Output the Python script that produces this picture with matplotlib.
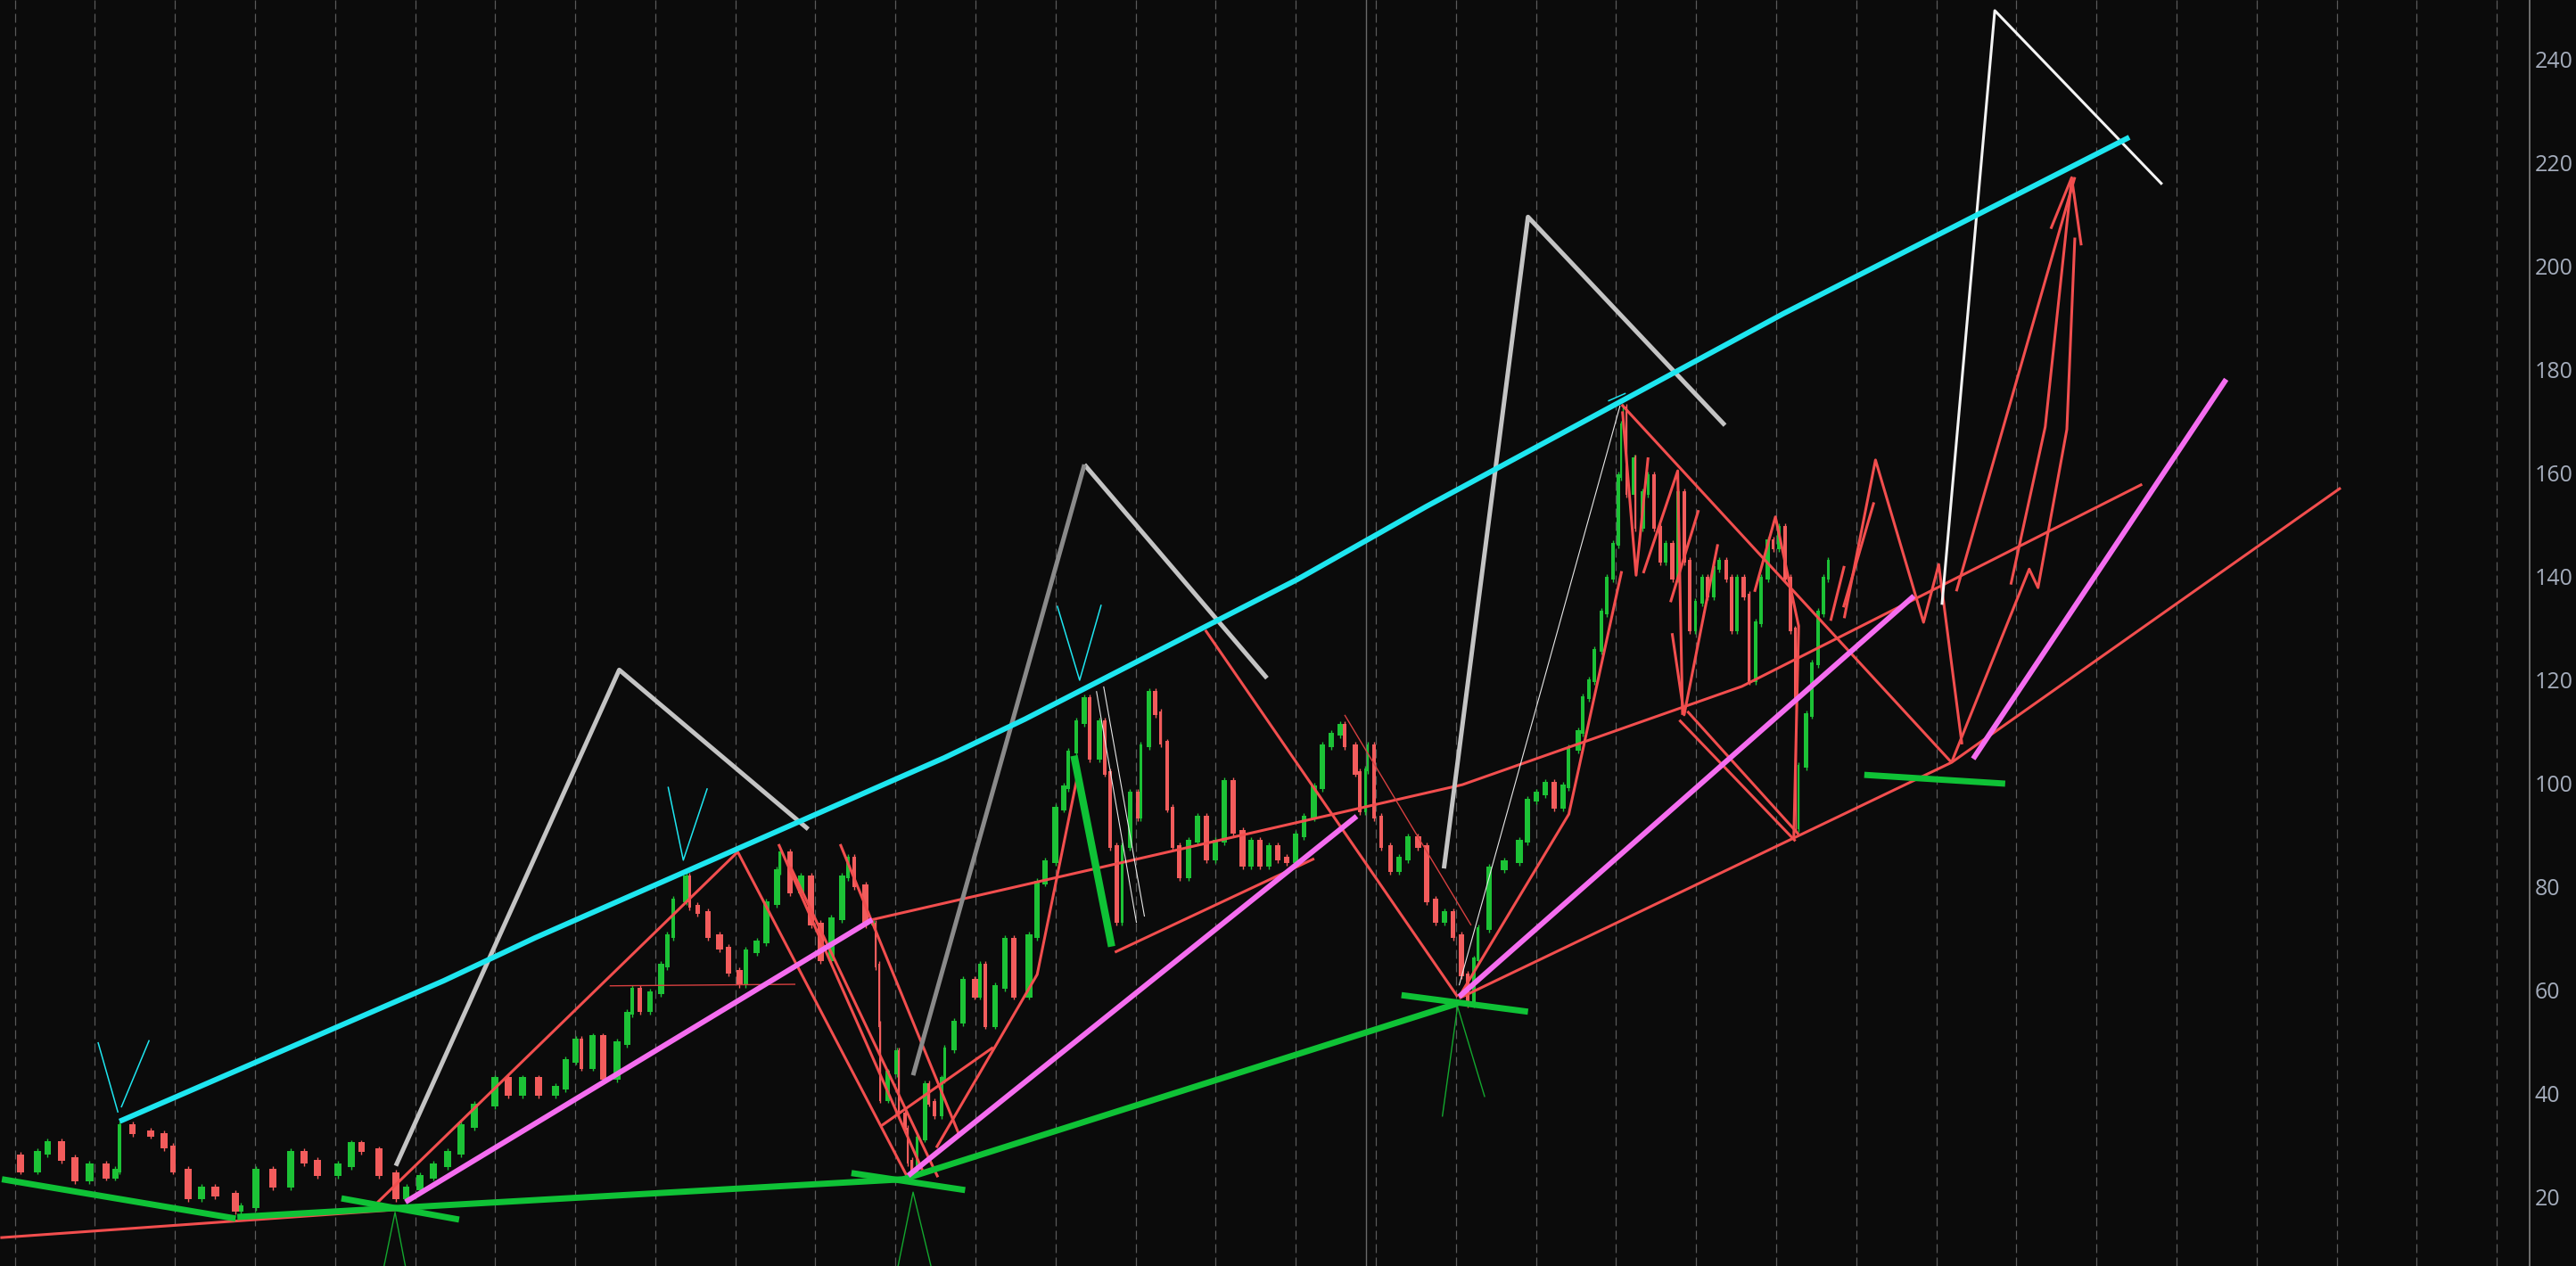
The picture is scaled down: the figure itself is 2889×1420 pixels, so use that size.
import matplotlib
matplotlib.use("Agg")
import matplotlib.pyplot as plt

# ---- price samples (time in grid periods, close price) ----
candle_t = [
    -0.18, 0.03, 0.24, 0.37, 0.54, 0.71, 0.89, 1.10, 1.22, 1.29, 1.43, 1.65, 1.82, 1.94,
    2.12, 2.29, 2.46, 2.71, 2.80, 2.97, 3.18, 3.40, 3.57, 3.74, 3.99, 4.16, 4.29, 4.50,
    4.72, 4.85, 5.02, 5.18, 5.36, 5.53, 5.70, 5.95, 6.12, 6.30, 6.50, 6.71, 6.84, 6.97,
    7.05, 7.18, 7.31, 7.48, 7.61, 7.69, 7.78, 7.90, 8.03, 8.12, 8.20, 8.35, 8.41, 8.50,
    8.62, 8.76, 8.88, 9.01, 9.10, 9.23, 9.35, 9.48, 9.54, 9.65, 9.78, 9.91, 10.03, 10.16,
    10.29, 10.38, 10.46, 10.59, 10.70, 10.74, 10.78, 10.80, 10.88, 10.99, 11.03, 11.10,
    11.14, 11.19, 11.25, 11.34, 11.40, 11.47, 11.55, 11.60, 11.70, 11.81, 11.95, 12.03,
    12.10, 12.21, 12.33, 12.44, 12.62, 12.73, 12.84, 12.96, 13.07, 13.14, 13.23, 13.33,
    13.40, 13.51, 13.59, 13.66, 13.74, 13.81, 13.90, 14.00, 14.05, 14.14, 14.22, 14.29,
    14.37, 14.44, 14.52, 14.63, 14.74, 14.85, 14.96, 15.07, 15.18, 15.30, 15.41, 15.52,
    15.63, 15.74, 15.85, 15.96, 16.07, 16.19, 16.30, 16.41, 16.52, 16.59, 16.71, 16.78,
    16.85, 16.89, 16.96, 17.04, 17.15, 17.26, 17.37, 17.49, 17.60, 17.71, 17.82, 17.93,
    18.04, 18.12, 18.20, 18.26, 18.38, 18.56, 18.75, 18.86, 18.97, 19.08, 19.19, 19.30,
    19.38, 19.49, 19.56, 19.64, 19.71, 19.79, 19.86, 19.94, 20.01, 20.05, 20.08, 20.12,
    20.20, 20.23, 20.31, 20.38, 20.45, 20.53, 20.60, 20.68, 20.75, 20.83, 20.90, 20.97,
    21.05, 21.12, 21.20, 21.27, 21.35, 21.42, 21.49, 21.57, 21.64, 21.72, 21.79, 21.87,
    21.94, 22.01, 22.09, 22.16, 22.22, 22.24, 22.27, 22.35, 22.42, 22.50, 22.57, 22.63,
]
candle_close = [
    28.0, 25.2, 28.6, 30.5, 27.4, 23.4, 26.2, 24.0, 25.2, 33.8, 32.6, 32.1, 29.7, 25.2,
    20.0, 21.7, 20.5, 17.6, 18.2, 25.2, 22.2, 28.6, 26.9, 24.5, 26.2, 30.3, 29.1, 24.5,
    20.0, 21.7, 24.0, 26.2, 28.6, 33.8, 37.8, 42.9, 40.0, 42.9, 40.0, 41.2, 46.4, 50.4,
    45.2, 51.0, 43.0, 49.8, 55.6, 60.2, 56.2, 59.6, 64.8, 70.5, 77.4, 82.0, 76.3, 75.1,
    70.5, 68.2, 63.6, 61.3, 67.6, 69.4, 76.9, 83.2, 86.6, 79.1, 82.0, 72.8, 65.9, 73.9,
    82.0, 85.5, 80.3, 72.8, 72.8, 64.8, 53.3, 39.0, 44.1, 48.1, 36.0, 33.2,
    26.9, 25.2, 31.4, 41.8, 38.3, 36.0, 42.9, 48.7, 53.9, 61.9, 59.0, 64.8,
    53.3, 60.7, 69.9, 59.0, 70.5, 80.9, 84.9, 95.2, 99.3, 106.1, 111.9, 116.5,
    105.0, 111.9, 102.1, 87.8, 73.4, 87.8, 98.1, 93.5, 107.3, 117.6, 113.6, 107.9,
    95.2, 87.8, 82.0, 88.9, 93.5, 85.5, 88.9, 100.4, 90.7, 84.3, 88.9, 84.3,
    87.8, 85.5, 84.9, 90.0, 93.5, 99.3, 107.3, 109.6, 111.3, 107.3, 102.1, 94.7,
    102.7, 107.3, 93.5, 87.8, 83.2, 85.5, 89.5, 87.8, 77.4, 73.4, 75.1, 70.5,
    63.0, 57.5, 66.0, 72.0, 83.6, 84.9, 88.9, 96.8, 98.1, 100.1, 95.5, 99.5,
    106.7, 110.0, 116.6, 119.9, 125.8, 133.1, 139.7, 146.3, 159.5, 169.4, 172.7, 156.2,
    162.8, 149.6, 156.2, 159.5, 149.6, 143.0, 146.3, 139.7, 156.2, 143.0, 129.8, 135.1,
    139.7, 136.4, 141.7, 143.0, 139.7, 129.8, 139.7, 136.4, 119.9, 131.1, 139.7, 147.0,
    145.6, 149.6, 139.7, 129.8, 116.6, 91.5, 103.4, 113.3, 123.2, 133.1, 139.7, 143.0,
]

y_ticks = [20, 40, 60, 80, 100, 120, 140, 160, 180, 200, 220, 240]
grid_t = list(range(0, 32))
cursor_t = 16.88

# ---- drawn studies (t, price) ----
cyan_trend = [(1.31, 34.7), (5.36, 61.9), (6.50, 70.2), (11.61, 105.0), (12.62, 112.5),
              (16.02, 139.5), (17.63, 153.6), (20.07, 174.0), (22.09, 190.9), (26.41, 225.0)]
cyan_marks = [
    [(1.04, 50.0), (1.29, 36.4)], [(1.33, 37.4), (1.68, 50.4)],
    [(8.16, 99.4), (8.35, 85.2), (8.65, 99.1)],
    [(13.02, 134.4), (13.30, 120.0), (13.57, 134.6)],
    [(19.90, 174.0), (20.12, 175.5)],
]

green_thick = [
    [(-0.16, 23.5), (2.76, 15.9)],
    [(2.78, 16.2), (11.10, 23.5)],
    [(11.10, 23.5), (18.02, 57.5)],
    [(4.08, 19.8), (5.55, 15.7)],
    [(10.45, 24.7), (11.87, 21.4)],
    [(17.32, 59.1), (18.90, 55.9)],
    [(23.10, 101.7), (24.86, 100.0)],
]
green_slash = [(13.23, 105.4), (13.70, 68.5)]
green_thin = [
    [(4.59, 5.0), (4.75, 17.1), (4.90, 5.0)],
    [(11.01, 5.0), (11.22, 21.0), (11.47, 5.0)],
    [(17.83, 35.6), (18.02, 56.9), (18.36, 39.4)],
]

red_lines = [
    [(-0.18, 12.2), (4.76, 17.6)],
    [(4.53, 19.0), (9.03, 86.8), (11.14, 24.2)],
    [(9.54, 88.3), (11.34, 25.1)],
    [(9.69, 83.9), (11.53, 23.9)],
    [(10.31, 88.3), (11.79, 32.3)],
    [(11.51, 29.6), (12.77, 63.1), (13.28, 102.0)],
    [(10.82, 33.8), (12.22, 49.0)],
    [(13.74, 67.4), (16.23, 85.5)],
    [(10.71, 73.7), (18.08, 99.8), (21.57, 118.8), (26.57, 157.9)],
    [(14.87, 129.7), (18.02, 58.8)],
    [(18.04, 58.8), (19.41, 94.1), (20.07, 141.1)],
    [(20.07, 173.3), (24.19, 104.1)],
    [(18.04, 58.5), (24.19, 104.1), (29.05, 157.2)],
    [(24.19, 104.1), (25.16, 141.5), (25.27, 137.9), (25.63, 168.5), (25.73, 205.6)],
    [(22.85, 132.0), (23.24, 162.6), (23.84, 131.2), (24.03, 142.4), (24.32, 107.6)],
    [(22.84, 134.1), (23.22, 154.4)],
    [(22.68, 131.5), (22.85, 142.1)],
    [(24.25, 137.2), (25.73, 217.3)],
    [(25.43, 207.3), (25.69, 217.2), (25.81, 204.1)],
    [(24.93, 138.5), (25.36, 169.0), (25.69, 216.9)],
    [(20.08, 172.0), (20.25, 140.3), (20.40, 163.1)],
    [(20.34, 140.7), (20.77, 160.5), (20.83, 113.3)],
    [(20.70, 129.1), (20.85, 113.3), (21.27, 146.3)],
    [(21.73, 137.1), (21.99, 151.6), (22.28, 130.5), (22.22, 89.6)],
    [(20.68, 135.1), (21.03, 152.9)],
    [(20.79, 112.3), (22.24, 88.9)],
    [(20.89, 114.0), (22.28, 90.2)],
]
red_thin = [
    [(16.61, 113.3), (18.19, 72.6)],
    [(7.43, 60.9), (9.75, 61.2)],
]

white_thick = [(24.07, 134.6), (24.73, 249.5), (26.82, 215.9)]
white_thin = [
    [(18.04, 61.0), (20.05, 173.1)],
    [(13.51, 117.9), (14.01, 73.1)],
    [(13.60, 118.8), (14.11, 74.3)],
]

gray_light = [
    [(4.76, 26.1), (7.55, 122.0), (9.91, 91.2)],
    [(13.36, 161.7), (15.64, 120.4)],
    [(17.85, 83.6), (18.90, 209.6), (21.36, 169.3)],
]
gray_dark = [(11.22, 43.6), (13.36, 161.7)]

pink_lines = [
    [(4.88, 19.1), (10.71, 73.7)],
    [(11.16, 24.2), (16.76, 93.7)],
    [(18.04, 58.8), (23.72, 136.3)],
    [(24.46, 104.8), (27.62, 178.2)],
]

BG = "#0b0b0b"
C_UP = "#1cc236"
C_DN = "#f25c5c"
C_RED = "#f24e4e"
C_CYAN = "#1ee6f0"
C_PINK = "#f56df0"
C_GREEN = "#0fc236"

fig = plt.figure(figsize=(28.89, 14.2), dpi=100, facecolor=BG)
ax = fig.add_axes([0, 0, 2837 / 2889, 1])
ax.set_facecolor(BG)

for g in grid_t:
    ax.axvline(g, color="#5a5a5a", lw=0.9, ls=(0, (8, 4)), zorder=0)
ax.axvline(cursor_t, color="#6a6a6a", lw=1.0, zorder=0)

# candles: open = previous close, body spans most of the gap to the previous sample
for i in range(1, len(candle_t)):
    o, c = candle_close[i - 1], candle_close[i]
    col = C_UP if c >= o else C_DN
    gap = candle_t[i] - candle_t[i - 1]
    w = min(gap * 0.6, 0.09)
    ax.bar(candle_t[i], abs(c - o) + 0.6, bottom=min(o, c) - 0.3, width=w,
           color=col, linewidth=0, align="edge", zorder=1)
    ax.vlines(candle_t[i] + w / 2, min(o, c) - 0.8, max(o, c) + 0.8,
              color=col, lw=1.0, zorder=1)


def poly(pts, **kw):
    xs, ys = zip(*pts)
    ax.plot(xs, ys, solid_capstyle="butt", solid_joinstyle="round", **kw)


for seg in red_lines:
    poly(seg, color=C_RED, lw=2.2, zorder=3)
for seg in red_thin:
    poly(seg, color="#d84040", lw=1.0, zorder=3)
for seg in green_thin:
    poly(seg, color="#13a82e", lw=1.0, zorder=3)
for seg in gray_light:
    poly(seg, color="#c4c4c4", lw=3.6, zorder=4)
poly(gray_dark, color="#8a8a8a", lw=3.6, zorder=4)
for seg in white_thin:
    poly(seg, color="#e8e8e8", lw=0.8, zorder=4)
poly(white_thick, color="#f4f4f4", lw=2.2, zorder=4)
for seg in green_thick:
    poly(seg, color=C_GREEN, lw=5.0, zorder=5)
poly(green_slash, color=C_GREEN, lw=6.0, zorder=5)
for seg in pink_lines:
    poly(seg, color=C_PINK, lw=4.3, zorder=5)
poly(cyan_trend, color=C_CYAN, lw=4.3, zorder=6)
for seg in cyan_marks:
    poly(seg, color=C_CYAN, lw=1.1, zorder=6)

ax.set_xlim(-0.184, 31.41)
ax.set_ylim(6.72, 251.55)
ax.yaxis.tick_right()
ax.set_yticks(y_ticks)
ax.set_yticklabels([str(v) for v in y_ticks], family="Open Sans", fontsize=18, color="#a4acbb")
ax.tick_params(axis="y", length=0, pad=4)
ax.set_xticks([])
for side in ["top", "left", "bottom"]:
    ax.spines[side].set_visible(False)
ax.spines["right"].set_color("#808080")
ax.spines["right"].set_linewidth(1.2)

fig.savefig("out.png", dpi=100, facecolor=BG)
